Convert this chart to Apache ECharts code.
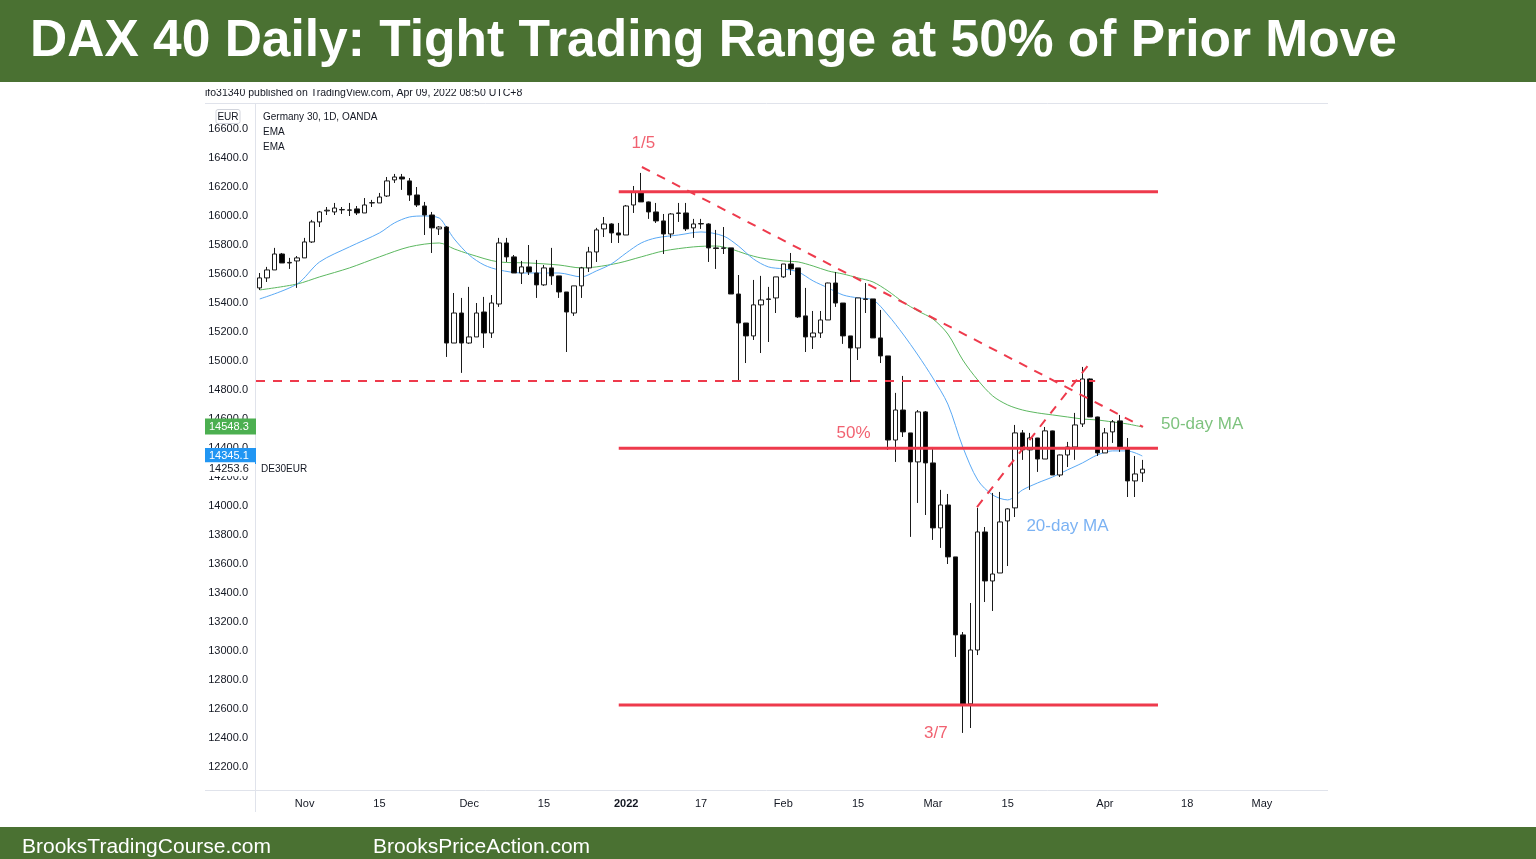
<!DOCTYPE html>
<html>
<head>
<meta charset="utf-8">
<title>DAX 40 Daily</title>
<script src="https://cdn.jsdelivr.net/npm/echarts@6/dist/echarts.min.js"></script>
<style>
  html, body { margin: 0; padding: 0; background: #fff; }
  #chart { width: 1536px; height: 859px; }
</style>
</head>
<body>
<div id="chart"></div>
<script>
// bars from Oct 22 2021 to Apr 8 2022, then empty days up to mid May
const firstDay = '2021-10-22';
const lastBarDay = '2022-04-08';
const futureStart = '2022-04-11';
const axisEndDay = '2022-05-13';
const holidays = ['2021-12-24', '2021-12-31'];

const tickDates = ['2021-11-01','2021-11-15','2021-12-01','2021-12-15','2022-01-03','2022-01-17',
  '2022-02-01','2022-02-15','2022-03-01','2022-03-15','2022-04-01','2022-04-18','2022-05-02'];
const tickTexts = ['Nov','15','Dec','15','2022','17','Feb','15','Mar','15','Apr','18','May'];

// [open, close, low, high]
const ohlc = [
  [15504,15573,15490,15607],[15573,15628,15545,15649],[15628,15738,15628,15780],[15738,15676,15676,15745],
  [15676,15680,15635,15711],[15690,15711,15504,15724],[15711,15821,15711,15849],[15821,15959,15814,15973],
  [15959,16028,15924,16035],[16035,16040,16007,16062],[16028,16055,16007,16090],[16042,16045,16014,16062],
  [16042,16040,16000,16090],[16049,16021,16007,16069],[16021,16076,16021,16124],[16090,16092,16062,16111],
  [16090,16131,16090,16159],[16138,16242,16131,16269],[16249,16269,16228,16290],[16269,16255,16180,16290],
  [16242,16145,16104,16262],[16145,16076,16062,16200],[16069,16007,15869,16097],[16007,15918,15745,16028],
  [15911,15924,15869,15930],[15924,15124,15028,15930],[15124,15331,15124,15469],[15331,15124,14918,15435],
  [15124,15166,15118,15511],[15166,15331,15166,15400],[15338,15193,15090,15442],[15193,15400,15159,15455],
  [15393,15814,15373,15849],[15814,15718,15683,15849],[15718,15607,15607,15731],[15607,15649,15531,15690],
  [15649,15614,15593,15800],[15607,15525,15435,15697],[15525,15642,15518,15662],[15642,15587,15525,15780],
  [15587,15476,15435,15587],[15476,15338,15062,15476],[15331,15518,15311,15518],[15518,15642,15435,15649],
  [15642,15752,15614,15787],[15752,15904,15683,15918],[15911,15945,15855,15993],[15945,15883,15814,15950],
  [15883,15869,15814,15952],[15869,16069,15869,16076],[16076,16166,16021,16207],[16166,16097,16097,16297],
  [16097,16028,15980,16100],[16028,15966,15952,16090],[15966,15876,15738,16014],[15876,16014,15849,16020],
  [16021,16018,15959,16090],[16021,15911,15897,16090],[15918,15945,15849,15980],[15945,15948,15911,15980],
  [15945,15780,15683,15950],[15780,15776,15635,15904],[15780,15777,15738,15924],[15780,15462,15462,15780],
  [15462,15262,14855,15593],[15262,15173,14986,15262],[15173,15387,15145,15559],[15387,15421,15055,15587],
  [15428,15425,15131,15511],[15435,15580,15331,15580],[15580,15669,15573,15669],[15669,15635,15593,15745],
  [15642,15304,15297,15642],[15311,15166,15062,15504],[15166,15193,15083,15345],[15193,15283,15159,15345],
  [15283,15538,15283,15540],[15538,15400,15373,15614],[15400,15173,15118,15400],[15173,15090,14855,15173],
  [15090,15435,15007,15435],[15428,15425,15331,15538],[15428,15159,15159,15428],[15159,15035,14986,15352],
  [15035,14455,14387,15035],[14455,14662,14304,14780],[14662,14511,14476,14897],[14504,14304,13787,14504],
  [14304,14649,14021,14662],[14649,14297,13938,14655],[14297,13849,13766,14407],[13849,14007,13711,14111],
  [14007,13649,13600,14083],[13649,13111,12959,13649],[13111,12635,12435,13131],[12635,13007,12469,13331],
  [13007,13821,12972,13987],[13821,13483,13338,13855],[13483,13531,13276,14090],[13538,13890,13538,14097],
  [13897,13980,13586,13985],[13987,14504,13924,14559],[14504,14387,14318,14524],[14387,14469,14111,14504],
  [14469,14324,14235,14470],[14324,14518,14324,14545],[14518,14214,14214,14520],[14214,14352,14200,14355],
  [14352,14407,14269,14442],[14407,14559,14318,14642],[14566,14876,14545,14959],[14876,14614,14614,14880],
  [14614,14366,14345,14616],[14366,14504,14366,14538],[14511,14580,14435,14593],[14587,14400,14373,14628],
  [14400,14173,14062,14469],[14173,14221,14062,14345],[14228,14254,14166,14318]
];

// EMA readings (bar index -> value)
const ema20Idx = [0,5,8,12,16,18,20,22,24,25,26,28,30,32,35,40,43,45,47,49,51,53,56,59,62,64,66,68,70,72,
  74,76,78,80,82,84,86,88,90,92,94,96,98,100,102,104,106,108,110,112,114,116,118];
const ema20 = [15428,15531,15683,15787,15883,15952,15993,16000,15986,15918,15842,15731,15662,15628,15607,15607,
  15580,15621,15669,15745,15814,15849,15869,15890,15862,15793,15704,15649,15635,15614,15552,15504,15455,15435,
  15421,15317,15186,15041,14883,14703,14407,14179,14076,14042,14111,14159,14200,14249,14297,14352,14380,14380,14345];
const ema50Idx = [0,5,8,12,16,20,24,26,28,32,36,40,43,45,48,51,54,58,61,63,65,67,70,72,74,76,78,80,82,84,
  86,88,90,92,94,96,98,100,102,104,106,108,110,112,114,116,118];
const ema50 = [15490,15531,15580,15642,15718,15787,15814,15773,15738,15683,15676,15662,15642,15649,15676,15718,
  15759,15787,15793,15773,15738,15711,15690,15683,15655,15621,15600,15573,15545,15483,15407,15345,15290,15186,
  15007,14869,14759,14697,14662,14642,14628,14614,14600,14593,14580,14566,14545];

const lastEma50 = 14548.3;
const lastEma20 = 14345.1;
const lastClose = 14253.6;

// drawn levels: [x1, y1, x2, y2] in bar index / price
const solidLevels = [
  [48.0, 16168, 120.1, 16168],
  [48.0, 14398, 120.1, 14398],
  [48.0, 12628, 120.1, 12628]
];
const dashedLines = [
  [-0.5, 14862, 111.7, 14862],
  [51.1, 16338, 118.1, 14545],
  [95.9, 13993, 111.0, 14986]
];
const noteTexts = ['1/5', '50%', '3/7', '50-day MA', '20-day MA'];
const noteX = [51.3, 79.4, 90.4, 126.0, 108.0];
const noteY = [16504, 14504, 12435, 14566, 13862];

function tradingDays(from, to, skip) {
  const out = [];
  const d = new Date(from + 'T00:00:00Z');
  const end = new Date(to + 'T00:00:00Z');
  while (d <= end) {
    const s = d.toISOString().slice(0, 10);
    const wd = d.getUTCDay();
    if (wd !== 0 && wd !== 6 && skip.indexOf(s) < 0) out.push(s);
    d.setUTCDate(d.getUTCDate() + 1);
  }
  return out;
}
const days = tradingDays(firstDay, lastBarDay, holidays).concat(tradingDays(futureStart, axisEndDay, []));

const RED = '#ee3a4c';
const noteColors = [RED, RED, RED, '#5cb35c', '#5a9ff0'];
const font = '"Liberation Sans", Arial, sans-serif';

var chart = echarts.init(document.getElementById('chart'));

var series = [
  {
    type: 'line', xAxisIndex: 1, data: ema50Idx.map((x, i) => [x, ema50[i]]),
    smooth: 0.3, symbol: 'none', lineStyle: { color: '#5cb860', width: 1 }, z: 2
  },
  {
    type: 'line', xAxisIndex: 1, data: ema20Idx.map((x, i) => [x, ema20[i]]),
    smooth: 0.3, symbol: 'none', lineStyle: { color: '#5aa9f5', width: 1 }, z: 2
  },
  {
    type: 'candlestick', xAxisIndex: 0, data: ohlc, barWidth: 5, z: 3,
    itemStyle: { color: '#ffffff', color0: '#000000', borderColor: '#1a1a1a', borderColor0: '#1a1a1a', borderWidth: 1 }
  }
];
solidLevels.forEach(l => series.push({
  type: 'line', xAxisIndex: 1, data: [[l[0], l[1]], [l[2], l[3]]], symbol: 'none',
  lineStyle: { color: RED, width: 3 }, z: 4
}));
dashedLines.forEach(l => series.push({
  type: 'line', xAxisIndex: 1, data: [[l[0], l[1]], [l[2], l[3]]], symbol: 'none',
  lineStyle: { color: RED, width: 2, type: [9, 8] }, z: 4
}));
series.push({
  type: 'scatter', xAxisIndex: 1, symbolSize: 1, itemStyle: { color: 'rgba(0,0,0,0)' }, z: 5,
  data: noteTexts.map((t, i) => ({
    name: t, value: [noteX[i], noteY[i]],
    label: { color: noteColors[i] }
  })),
  label: { show: true, position: 'inside', formatter: p => p.name, fontSize: 17, fontFamily: font }
});

var option = {
  animation: false,
  backgroundColor: '#ffffff',
  grid: { left: 256, right: 203, top: 100, bottom: 63 },
  xAxis: [
    {
      type: 'category', data: days, boundaryGap: true,
      axisLine: { show: false }, axisTick: { show: false }, splitLine: { show: false },
      axisLabel: {
        interval: 0, margin: 2, color: '#131722', fontSize: 11, fontFamily: font,
        formatter: function (v) {
          var k = tickDates.indexOf(v);
          if (k < 0) return '';
          return tickTexts[k] === '2022' ? '{b|2022}' : tickTexts[k];
        },
        rich: { b: { fontWeight: 'bold', fontSize: 11, color: '#131722', fontFamily: font } }
      }
    },
    { type: 'value', min: -0.5, max: days.length - 0.5, show: false }
  ],
  yAxis: {
    type: 'value', position: 'left', min: 12000, max: 16800, interval: 200,
    axisLine: { show: false }, axisTick: { show: false }, splitLine: { show: false },
    axisLabel: {
      showMinLabel: false, showMaxLabel: false, margin: 8, color: '#131722', fontSize: 11, fontFamily: font,
      formatter: v => v.toFixed(1)
    }
  },
  series: series
};
chart.setOption(option);

var y50 = chart.convertToPixel({ yAxisIndex: 0 }, lastEma50);
var y20 = chart.convertToPixel({ yAxisIndex: 0 }, lastEma20);
var yC = chart.convertToPixel({ yAxisIndex: 0 }, lastClose);
var frame = '#e0e3eb';

chart.setOption({
  graphic: [
    { type: 'rect', shape: { x: 0, y: 0, width: 1536, height: 82 }, style: { fill: '#4a7132' }, z: 100 },
    { type: 'text', x: 30, y: 42, z: 101,
      style: { text: 'DAX 40 Daily: Tight Trading Range at 50% of Prior Move', fill: '#ffffff',
               font: 'bold 51.5px ' + font, textVerticalAlign: 'middle' } },
    { type: 'rect', shape: { x: 0, y: 827, width: 1536, height: 32 }, style: { fill: '#4a7132' }, z: 100 },
    { type: 'text', x: 22, y: 847, z: 101,
      style: { text: 'BrooksTradingCourse.com', fill: '#ffffff', font: '21px ' + font, textVerticalAlign: 'middle' } },
    { type: 'text', x: 373, y: 847, z: 101,
      style: { text: 'BrooksPriceAction.com', fill: '#ffffff', font: '21px ' + font, textVerticalAlign: 'middle' } },
    { type: 'text', x: 205, y: 93, z: 50,
      style: { text: 'ifo31340 published on TradingView.com, Apr 09, 2022 08:50 UTC+8', fill: '#131722',
               font: '10.5px ' + font, textVerticalAlign: 'middle' } },
    { type: 'rect', shape: { x: 200, y: 82, width: 340, height: 7 }, style: { fill: '#ffffff' }, z: 51 },
    { type: 'line', shape: { x1: 205, y1: 103.5, x2: 1328, y2: 103.5 }, style: { stroke: frame, lineWidth: 1 }, z: 10 },
    { type: 'line', shape: { x1: 205, y1: 790.5, x2: 1328, y2: 790.5 }, style: { stroke: frame, lineWidth: 1 }, z: 10 },
    { type: 'line', shape: { x1: 255.5, y1: 103, x2: 255.5, y2: 812 }, style: { stroke: frame, lineWidth: 1 }, z: 10 },
    { type: 'rect', shape: { x: 216, y: 109.5, width: 24, height: 14, r: 2 },
      style: { fill: '#ffffff', stroke: '#d1d4dc', lineWidth: 1 }, z: 60 },
    { type: 'text', x: 228, y: 117, z: 61,
      style: { text: 'EUR', fill: '#131722', font: '10px ' + font, textAlign: 'center', textVerticalAlign: 'middle' } },
    { type: 'text', x: 263, y: 117, z: 61,
      style: { text: 'Germany 30, 1D, OANDA', fill: '#131722', font: '10px ' + font, textVerticalAlign: 'middle' } },
    { type: 'text', x: 263, y: 132, z: 61,
      style: { text: 'EMA', fill: '#131722', font: '10px ' + font, textVerticalAlign: 'middle' } },
    { type: 'text', x: 263, y: 147, z: 61,
      style: { text: 'EMA', fill: '#131722', font: '10px ' + font, textVerticalAlign: 'middle' } },
    { type: 'rect', shape: { x: 205, y: y50 - 8, width: 51, height: 16 }, style: { fill: '#4caf50' }, z: 60 },
    { type: 'text', x: 209, y: y50, z: 61,
      style: { text: lastEma50.toFixed(1), fill: '#ffffff', font: '11px ' + font, textVerticalAlign: 'middle' } },
    { type: 'rect', shape: { x: 205, y: y20 - 8, width: 51, height: 16 }, style: { fill: '#2196f3' }, z: 60 },
    { type: 'text', x: 209, y: y20, z: 61,
      style: { text: lastEma20.toFixed(1), fill: '#ffffff', font: '11px ' + font, textVerticalAlign: 'middle' } },
    { type: 'rect', shape: { x: 205, y: yC - 7, width: 50, height: 14 }, style: { fill: '#ffffff' }, z: 60 },
    { type: 'text', x: 209, y: yC, z: 61,
      style: { text: lastClose.toFixed(1), fill: '#131722', font: '11px ' + font, textVerticalAlign: 'middle' } },
    { type: 'text', x: 261, y: yC, z: 61,
      style: { text: 'DE30EUR', fill: '#131722', font: '10px ' + font, textVerticalAlign: 'middle' } }
  ]
});
</script>
</body>
</html>
